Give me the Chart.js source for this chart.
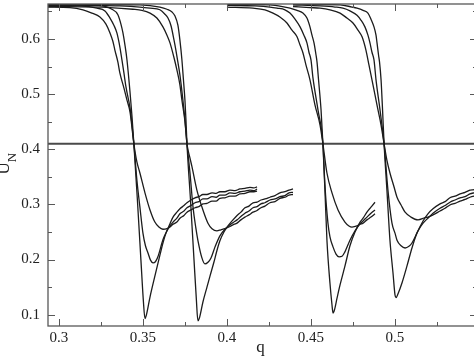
<!DOCTYPE html>
<html>
<head>
<meta charset="utf-8">
<script src="https://cdn.jsdelivr.net/npm/chart.js@4.4.1/dist/chart.umd.min.js"></script>
<style>
  html, body { margin: 0; padding: 0; background: #fff; overflow: hidden; }
  #wrap { width: 480px; height: 356px; }
</style>
</head>
<body>
<div id="wrap"><canvas id="binder" width="480" height="356"></canvas></div>
<script>
// axis ticks
const xTicks = [0.3, 0.35, 0.4, 0.45, 0.5];
const xTickLabels = ['0.3', '0.35', '0.4', '0.45', '0.5'];
const xMinor = [0.325, 0.375, 0.425, 0.475, 0.525];
const yTicks = [0.1, 0.2, 0.3, 0.4, 0.5, 0.6];
const yTickLabels = ['0.1', '0.2', '0.3', '0.4', '0.5', '0.6'];
const yMinor = [0.15, 0.25, 0.35, 0.45, 0.55, 0.65];

// crossing value
const crossU = 0.41;

// first pair of transitions (left), three sizes each
const qA1 = [0.2935,0.3185,0.3274,0.3315,0.3351,0.3369,0.3381,0.3393,0.3405,0.3423,0.3435,0.3446,0.3467,0.3488,0.3503,0.3512,0.3521,0.3542,0.3571,0.3601,0.3619,0.3637,0.3661,0.3679,0.3702,0.3720,0.3744,0.3762,0.3786,0.3810,0.3833,0.3857,0.3881,0.3911,0.3935,0.3958,0.3988,0.4018,0.4048,0.4077,0.4107,0.4137,0.4161,0.4179];
const uA1 = [0.663,0.662,0.659,0.654,0.644,0.627,0.611,0.589,0.562,0.504,0.459,0.410,0.308,0.199,0.123,0.093,0.100,0.132,0.170,0.208,0.230,0.248,0.265,0.277,0.286,0.292,0.298,0.303,0.308,0.312,0.314,0.318,0.318,0.321,0.320,0.323,0.323,0.326,0.325,0.328,0.329,0.331,0.330,0.332];
const qA2 = [0.2935,0.3125,0.3226,0.3274,0.3304,0.3327,0.3345,0.3363,0.3375,0.3387,0.3399,0.3423,0.3435,0.3446,0.3464,0.3482,0.3500,0.3515,0.3530,0.3545,0.3560,0.3574,0.3589,0.3619,0.3643,0.3661,0.3679,0.3702,0.3720,0.3744,0.3762,0.3786,0.3810,0.3833,0.3857,0.3881,0.3911,0.3935,0.3958,0.3988,0.4018,0.4048,0.4077,0.4107,0.4137,0.4161,0.4179];
const uA2 = [0.661,0.660,0.656,0.651,0.638,0.625,0.611,0.585,0.562,0.538,0.513,0.475,0.444,0.410,0.344,0.295,0.248,0.225,0.212,0.199,0.194,0.196,0.205,0.236,0.252,0.261,0.268,0.275,0.283,0.288,0.294,0.298,0.303,0.305,0.310,0.310,0.314,0.313,0.317,0.317,0.321,0.320,0.323,0.324,0.326,0.325,0.328];
const qA3 = [0.2935,0.3065,0.3143,0.3196,0.3244,0.3280,0.3304,0.3321,0.3333,0.3351,0.3363,0.3387,0.3405,0.3423,0.3446,0.3464,0.3482,0.3512,0.3542,0.3571,0.3595,0.3619,0.3643,0.3661,0.3679,0.3702,0.3720,0.3744,0.3762,0.3786,0.3810,0.3833,0.3857,0.3881,0.3911,0.3935,0.3958,0.3988,0.4018,0.4048,0.4077,0.4107,0.4137,0.4161,0.4179];
const uA3 = [0.658,0.657,0.653,0.647,0.640,0.627,0.611,0.596,0.580,0.558,0.538,0.511,0.489,0.468,0.410,0.377,0.357,0.321,0.290,0.268,0.259,0.255,0.256,0.259,0.264,0.268,0.275,0.280,0.286,0.290,0.294,0.296,0.301,0.302,0.306,0.306,0.311,0.312,0.315,0.315,0.319,0.320,0.323,0.323,0.324];

const qB1 = [0.2935,0.3482,0.3601,0.3643,0.3673,0.3690,0.3708,0.3720,0.3732,0.3741,0.3750,0.3756,0.3762,0.3783,0.3804,0.3818,0.3827,0.3836,0.3857,0.3881,0.3899,0.3923,0.3940,0.3958,0.3982,0.4006,0.4036,0.4060,0.4083,0.4107,0.4131,0.4155,0.4179,0.4202,0.4226,0.4256,0.4286,0.4315,0.4345,0.4369,0.4393];
const uB1 = [0.663,0.662,0.658,0.654,0.649,0.642,0.625,0.598,0.562,0.526,0.489,0.453,0.410,0.308,0.199,0.127,0.089,0.094,0.123,0.150,0.170,0.196,0.216,0.234,0.250,0.261,0.272,0.280,0.286,0.294,0.297,0.303,0.304,0.308,0.310,0.313,0.316,0.321,0.323,0.326,0.328];
const qB2 = [0.2935,0.3363,0.3482,0.3542,0.3601,0.3631,0.3649,0.3667,0.3685,0.3696,0.3708,0.3720,0.3738,0.3750,0.3762,0.3780,0.3798,0.3815,0.3827,0.3851,0.3869,0.3887,0.3905,0.3929,0.3958,0.3988,0.4018,0.4036,0.4060,0.4083,0.4107,0.4131,0.4155,0.4179,0.4202,0.4226,0.4256,0.4286,0.4315,0.4345,0.4369,0.4393];
const uB2 = [0.662,0.660,0.658,0.656,0.653,0.645,0.638,0.624,0.598,0.580,0.558,0.535,0.489,0.453,0.410,0.357,0.295,0.257,0.235,0.203,0.192,0.195,0.203,0.223,0.243,0.255,0.263,0.267,0.272,0.278,0.284,0.288,0.294,0.296,0.301,0.303,0.308,0.310,0.314,0.316,0.321,0.322];
const qB3 = [0.2935,0.3304,0.3440,0.3494,0.3542,0.3583,0.3619,0.3643,0.3661,0.3685,0.3702,0.3720,0.3732,0.3750,0.3762,0.3780,0.3792,0.3821,0.3857,0.3887,0.3911,0.3940,0.3964,0.3988,0.4018,0.4036,0.4060,0.4083,0.4107,0.4131,0.4155,0.4179,0.4202,0.4226,0.4256,0.4286,0.4315,0.4345,0.4369,0.4393];
const uB3 = [0.659,0.657,0.654,0.652,0.647,0.638,0.622,0.607,0.593,0.566,0.544,0.517,0.489,0.451,0.410,0.384,0.368,0.326,0.290,0.266,0.256,0.252,0.254,0.256,0.260,0.263,0.266,0.272,0.277,0.281,0.286,0.289,0.294,0.297,0.303,0.305,0.311,0.313,0.317,0.318];

// second pair of transitions (right)
const qC1 = [0.4,0.4256,0.4345,0.4375,0.4417,0.4452,0.4476,0.4494,0.4506,0.4518,0.4530,0.4536,0.4545,0.4560,0.4571,0.4583,0.4595,0.4613,0.4625,0.4631,0.4640,0.4655,0.4673,0.4702,0.4732,0.4762,0.4792,0.4810,0.4833,0.4857,0.4881];
const uC1 = [0.663,0.662,0.658,0.656,0.652,0.647,0.638,0.622,0.607,0.593,0.571,0.558,0.526,0.471,0.410,0.326,0.235,0.157,0.118,0.103,0.109,0.130,0.154,0.188,0.225,0.250,0.268,0.275,0.286,0.295,0.304];
const qC2 = [0.4,0.4167,0.4256,0.4298,0.4345,0.4375,0.4405,0.4435,0.4458,0.4476,0.4488,0.4500,0.4512,0.4542,0.4571,0.4583,0.4601,0.4613,0.4631,0.4649,0.4667,0.4685,0.4702,0.4732,0.4762,0.4792,0.4810,0.4833,0.4857,0.4881];
const uC2 = [0.661,0.660,0.658,0.656,0.653,0.647,0.636,0.622,0.607,0.593,0.576,0.562,0.529,0.471,0.410,0.335,0.266,0.241,0.223,0.210,0.205,0.206,0.214,0.235,0.252,0.265,0.270,0.277,0.284,0.290];
const qC3 = [0.4,0.4155,0.4226,0.4274,0.4315,0.4357,0.4387,0.4417,0.4435,0.4452,0.4470,0.4494,0.4524,0.4554,0.4571,0.4595,0.4625,0.4661,0.4702,0.4726,0.4744,0.4774,0.4792,0.4810,0.4833,0.4857,0.4881];
const uC3 = [0.658,0.656,0.653,0.647,0.640,0.629,0.616,0.604,0.589,0.575,0.553,0.526,0.480,0.444,0.410,0.357,0.321,0.290,0.268,0.261,0.259,0.261,0.264,0.266,0.272,0.277,0.283];

const qD1 = [0.4393,0.4673,0.4744,0.4774,0.4810,0.4839,0.4857,0.4875,0.4887,0.4893,0.4902,0.4908,0.4917,0.4926,0.4935,0.4952,0.4970,0.4988,0.5000,0.5006,0.5018,0.5042,0.5071,0.5101,0.5131,0.5167,0.5196,0.5226,0.5268,0.5298,0.5327,0.5357,0.5387,0.5417,0.5446,0.5470,0.5488];
const uD1 = [0.663,0.662,0.658,0.656,0.652,0.647,0.636,0.622,0.607,0.593,0.571,0.558,0.526,0.471,0.410,0.326,0.235,0.176,0.136,0.131,0.138,0.158,0.188,0.221,0.248,0.270,0.283,0.292,0.301,0.305,0.312,0.315,0.319,0.322,0.326,0.327,0.329];
const qD2 = [0.4393,0.4554,0.4643,0.4690,0.4732,0.4774,0.4798,0.4821,0.4839,0.4851,0.4863,0.4875,0.4887,0.4911,0.4935,0.4958,0.4982,0.5000,0.5012,0.5036,0.5060,0.5083,0.5101,0.5137,0.5167,0.5196,0.5226,0.5268,0.5298,0.5327,0.5357,0.5387,0.5417,0.5446,0.5470,0.5488];
const uD2 = [0.662,0.660,0.658,0.656,0.651,0.643,0.634,0.622,0.607,0.593,0.576,0.562,0.526,0.471,0.410,0.326,0.266,0.248,0.235,0.225,0.221,0.224,0.230,0.252,0.266,0.275,0.284,0.293,0.298,0.304,0.308,0.312,0.314,0.319,0.321,0.322];
const qD3 = [0.4393,0.4494,0.4554,0.4613,0.4673,0.4714,0.4750,0.4780,0.4804,0.4827,0.4845,0.4863,0.4893,0.4917,0.4935,0.4952,0.4970,0.4994,0.5012,0.5036,0.5060,0.5095,0.5137,0.5179,0.5196,0.5226,0.5268,0.5298,0.5327,0.5357,0.5387,0.5417,0.5446,0.5470,0.5488];
const uD3 = [0.659,0.657,0.656,0.653,0.647,0.638,0.629,0.616,0.604,0.580,0.553,0.526,0.480,0.444,0.410,0.380,0.357,0.332,0.313,0.299,0.286,0.277,0.272,0.276,0.277,0.281,0.288,0.293,0.299,0.302,0.306,0.309,0.313,0.315,0.316];

const xMin = 0.2935, xMax = 0.5488;
const yMin = 0.0795, yMax = 0.6635;

const curves = [
  [qA1, uA1], [qA2, uA2], [qA3, uA3],
  [qB1, uB1], [qB2, uB2], [qB3, uB3],
  [qC1, uC1], [qC2, uC2], [qC3, uC3],
  [qD1, uD1], [qD2, uD2], [qD3, uD3]
];

const datasets = curves.map(([qs, us]) => ({
  data: qs.map((q, i) => ({ x: q, y: us[i] })),
  borderColor: '#1c1c1c',
  borderWidth: 1.3,
  pointRadius: 0,
  cubicInterpolationMode: 'monotone',
  fill: false
}));

datasets.push({
  data: [{ x: xMin, y: crossU }, { x: xMax, y: crossU }],
  borderColor: '#4a4a4a',
  borderWidth: 1.8,
  pointRadius: 0,
  fill: false
});

const serif = '"Liberation Serif", "DejaVu Serif", serif';

// frame, inward ticks and the axis titles
const frameTicks = {
  id: 'frameTicks',
  afterDraw(chart) {
    const { ctx, chartArea: a, scales: { x, y } } = chart;
    ctx.save();
    ctx.strokeStyle = '#585858';
    ctx.lineWidth = 1.3;
    ctx.strokeRect(a.left, a.top, a.right - a.left, a.bottom - a.top);

    const xt = (vals, len) => vals.forEach(v => {
      const px = Math.round(x.getPixelForValue(v)) + 0.5;
      ctx.beginPath();
      ctx.moveTo(px, a.bottom); ctx.lineTo(px, a.bottom - len);
      ctx.moveTo(px, a.top); ctx.lineTo(px, a.top + len);
      ctx.stroke();
    });
    const yt = (vals, len) => vals.forEach(v => {
      const py = Math.round(y.getPixelForValue(v)) + 0.5;
      ctx.beginPath();
      ctx.moveTo(a.left, py); ctx.lineTo(a.left + len, py);
      ctx.moveTo(a.right, py); ctx.lineTo(a.right - len, py);
      ctx.stroke();
    });
    ctx.lineWidth = 1;
    xt(xTicks, 7); xt(xMinor, 4);
    yt(yTicks, 7); yt(yMinor, 4);

    ctx.fillStyle = '#222';
    ctx.font = '17px ' + serif;
    ctx.textAlign = 'center';
    ctx.textBaseline = 'alphabetic';
    ctx.fillText('q', (a.left + a.right) / 2 - 2, 352);

    ctx.translate(9, 174.5);
    ctx.rotate(-Math.PI / 2);
    ctx.textAlign = 'left';
    ctx.fillText('U', 0, 0);
    const w = ctx.measureText('U').width;
    ctx.font = '13px ' + serif;
    ctx.fillText('N', w, 6.5);
    ctx.restore();
  }
};

new Chart(document.getElementById('binder').getContext('2d'), {
  type: 'line',
  data: { datasets },
  options: {
    responsive: false,
    animation: false,
    devicePixelRatio: 1,
    layout: { padding: { top: 4, right: 3, left: 0, bottom: 0 } },
    plugins: { legend: { display: false }, tooltip: { enabled: false } },
    scales: {
      x: {
        type: 'linear',
        min: xMin,
        max: xMax,
        grid: { display: false, drawTicks: false },
        border: { display: false },
        afterBuildTicks: s => { s.ticks = xTicks.map(v => ({ value: v })); },
        afterFit: s => { s.height = 30; s.paddingLeft = 0; s.paddingRight = 0; },
        ticks: {
          autoSkip: false,
          maxRotation: 0,
          padding: 3,
          color: '#222',
          font: { family: serif, size: 15 },
          callback: (v, i) => xTickLabels[i]
        }
      },
      y: {
        min: yMin,
        max: yMax,
        grid: { display: false, drawTicks: false },
        border: { display: false },
        afterBuildTicks: s => { s.ticks = yTicks.map(v => ({ value: v })); },
        afterFit: s => { s.width = 48; s.paddingTop = 0; s.paddingBottom = 0; },
        ticks: {
          autoSkip: false,
          padding: 8,
          color: '#222',
          font: { family: serif, size: 15 },
          callback: (v, i) => yTickLabels[i]
        }
      }
    }
  },
  plugins: [frameTicks]
});
</script>
</body>
</html>
